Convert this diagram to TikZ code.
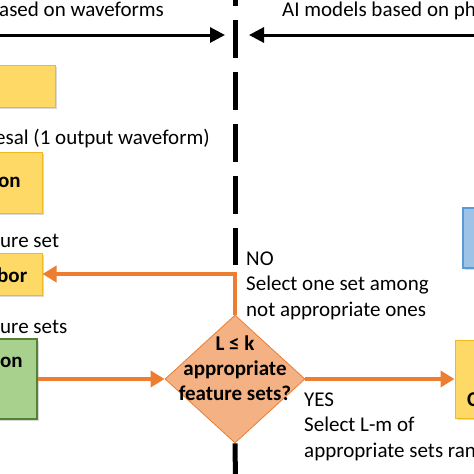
\documentclass[tikz,border=0pt]{standalone}
\usepackage{fontspec}
\setmainfont{Carlito}
\usetikzlibrary{arrows.meta,shapes.geometric,shadows}
\definecolor{YellowClr}{rgb}{1,0.851,0.4}
\definecolor{YellowEdgeClr}{rgb}{0.93,0.73,0.13}
\definecolor{GreenClr}{rgb}{0.663,0.82,0.557}
\definecolor{GreenEdgeClr}{rgb}{0.329,0.51,0.208}
\definecolor{BlueClr}{rgb}{0.616,0.765,0.902}
\definecolor{BlueEdgeClr}{rgb}{0.357,0.608,0.835}
\definecolor{DiamondClr}{rgb}{0.957,0.694,0.514}
\definecolor{ArrowClr}{rgb}{0.929,0.49,0.192}

\begin{document}
\begin{tikzpicture}[x=1pt,y=-1pt,
  txt/.style={inner sep=0,font=\fontsize{21}{25.5}\selectfont},
  btxt/.style={txt,font=\fontsize{21}{25}\selectfont\bfseries},
  boxshadow/.style={drop shadow={shadow xshift=1.5pt,shadow yshift=-1.5pt,opacity=.3}},
  ybox/.style={draw=YellowEdgeClr,fill=YellowClr,line width=1pt,inner sep=0,boxshadow},
  gbox/.style={draw=GreenEdgeClr,fill=GreenClr,line width=2pt,inner sep=0,boxshadow},
  bbox/.style={draw=BlueEdgeClr,fill=BlueClr,line width=2pt,inner sep=0,boxshadow},
  orangearr/.style={draw=ArrowClr,line width=4pt,-{Triangle[length=14pt,width=16pt]}},
  blackarr/.style={line width=3pt,-{Triangle[length=15pt,width=15pt]}}]
\useasboundingbox (0,0) rectangle (474,474);
\clip (0,0) rectangle (474,474);

% boxes on the left
\node[ybox,minimum width=95pt,minimum height=42pt] (filter) at (7.5,86) {};
\node[ybox,minimum width=102pt,minimum height=61pt] (single) at (-9,182.5) {};
\node[ybox,minimum width=102pt,minimum height=42pt] (neigh) at (-9,274) {};
\node[gbox,minimum width=97pt,minimum height=80pt] (multi) at (-11.5,379) {};
\node[btxt,anchor=base west] (singletxt) at (-2,187) {on};
\node[btxt,anchor=base west] (neightxt) at (-3,282) {bor};
\node[btxt,anchor=base west] (multitxt) at (0,367) {on};

\node[txt,anchor=base west] (lefthead) at (-1,16) {ased on waveforms};
\node[txt,anchor=base west] (singlehead) at (-5,144) {esal (1 output waveform)};
\node[txt,anchor=base west] (neighhead) at (0,247) {ure set};
\node[txt,anchor=base west] (multihead) at (0,333) {ure sets};

% boxes on the right
\node[txt,anchor=base west] (righthead) at (282,16) {AI models based on ph};
\node[bbox,minimum width=77pt,minimum height=60pt] (phys) at (501.5,238) {};
\node[ybox,minimum width=85pt,minimum height=78pt] (ranked) at (497.5,379) {};
\node[btxt,anchor=base west] (rankedtxt) at (467,406) {C};

% decision
\node[diamond,draw=ArrowClr,fill=DiamondClr,line width=.8pt,inner sep=0,
  minimum width=140pt,minimum height=128pt] (check) at (235,379) {};
\node[btxt,align=center] (checktxt) at (235,368) {L ≤ k\\appropriate\\feature sets?};

\node[txt,align=left,anchor=north west] (notxt) at (246,251.5)
  {NO\\Select one set among\\not appropriate ones};
\node[txt,align=left,anchor=north west] (yestxt) at (304,392.5)
  {YES\\Select L-m of\\appropriate sets ran};

% divider and top arrows
\coordinate (divtop) at (235.5,-32);
\coordinate (divend) at (235.5,265);
\coordinate (divbot) at (235.5,480);
\draw[line width=5pt,dash pattern=on 38pt off 14pt] (divtop) -- (divend);
\draw[line width=5pt] (check.south) -- (divbot);

\coordinate (lfar) at (-5,35);
\coordinate (ltip) at (225,35);
\coordinate (rfar) at (480,35);
\coordinate (rtip) at (249,35);
\draw[blackarr] (lfar) -- (ltip);
\draw[blackarr] (rfar) -- (rtip);

% connectors
\draw[orangearr] (multi.east) -- (check.west);
\draw[orangearr] (check.east) -- (ranked.west);
\draw[orangearr] (check.north) |- (neigh.east);

\end{tikzpicture}
\end{document}
